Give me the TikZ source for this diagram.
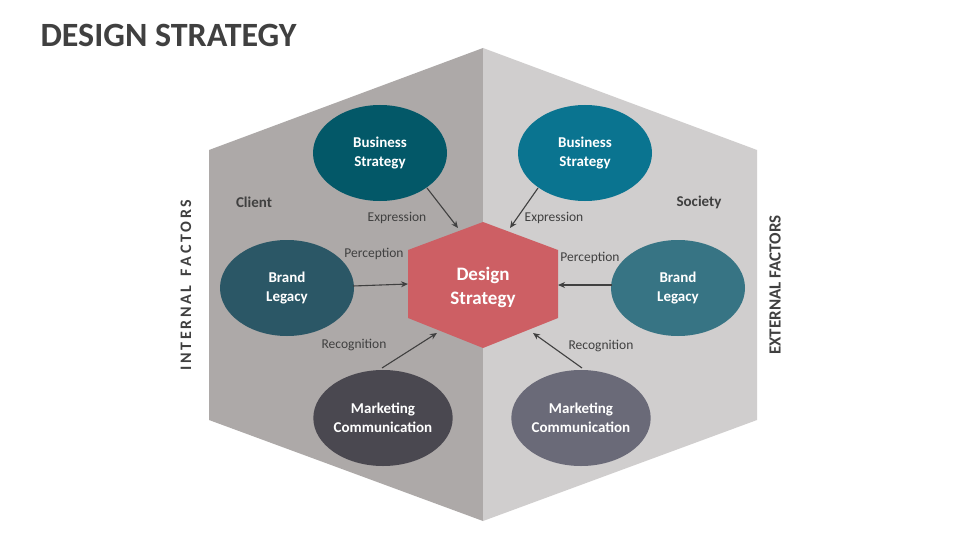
\documentclass[tikz,border=0pt]{standalone}
\usepackage{fontspec}
\setmainfont{Carlito}
\usetikzlibrary{arrows.meta,shapes.geometric}
\definecolor{lhalf}{HTML}{ADA9A8}
\definecolor{rhalf}{HTML}{D0CECE}
\definecolor{hexc}{HTML}{CD5F64}
\definecolor{txt}{HTML}{404040}
\tikzset{
 ell/.style={ellipse,minimum width=134pt,minimum height=96pt,text=white,font=\bfseries\fontsize{15}{19}\selectfont,align=center,inner sep=0pt},
 lbl/.style={text=txt,font=\fontsize{13.5}{15}\selectfont},
 conn/.style={-{Stealth[length=7pt,width=6pt]},draw=txt,line width=1.1pt}
}
\begin{document}
\begin{tikzpicture}[x=1pt,y=-1pt]
\useasboundingbox (0,0) rectangle (960,540);
\fill[white] (0,0) rectangle (960,540);
\node[anchor=west,text=txt,font=\bfseries\fontsize{34}{38}\selectfont] (title) at (37,35) {DESIGN STRATEGY};
\fill[lhalf] (483,48) -- (209,150) -- (209,420) -- (483,521) -- cycle;
\fill[rhalf] (483,48) -- (757,150) -- (757,420) -- (483,521) -- cycle;
\fill[hexc] (483,222) -- (558,250) -- (558,318) -- (483,348) -- (408,318) -- (408,250) -- cycle;
\node[text=white,font=\bfseries\fontsize{19}{24}\selectfont,align=center] (ds) at (483,287) {Design\\Strategy};
\node[ell,fill={rgb,255:red,3;green,88;blue,104}] (bl) at (380,153) {Business\\Strategy};
\node[ell,fill={rgb,255:red,10;green,116;blue,144}] (br) at (585,153) {Business\\Strategy};
\node[ell,fill={rgb,255:red,43;green,87;blue,102}] (ll) at (287,288) {Brand\\Legacy};
\node[ell,fill={rgb,255:red,55;green,116;blue,132}] (lr) at (678,288) {Brand\\Legacy};
\node[ell,fill={rgb,255:red,74;green,72;blue,80}] (ml) at (383,418) {Marketing\\Communication};
\node[ell,fill={rgb,255:red,106;green,106;blue,120}] (mr) at (581,418) {Marketing\\Communication};
\coordinate (a1) at (458,228); \coordinate (a2) at (510,228);
\coordinate (a3) at (408,284); \coordinate (a4) at (558,285);
\coordinate (a5) at (437,333); \coordinate (a6) at (533,333);
\coordinate (s1) at (427,188); \coordinate (s2) at (538,188);
\coordinate (s3) at (353,286); \coordinate (s4) at (612,285);
\coordinate (s5) at (382,368); \coordinate (s6) at (582,368);
\draw[conn] (s1) -- (a1); \draw[conn] (s2) -- (a2);
\draw[conn] (s3) -- (a3); \draw[conn] (s4) -- (a4);
\draw[conn] (s5) -- (a5); \draw[conn] (s6) -- (a6);
\node[lbl] (e1) at (397,218) {Expression};
\node[lbl] (e2) at (554,218) {Expression};
\node[lbl] (p1) at (374,254) {Perception};
\node[lbl] (p2) at (590,258) {Perception};
\node[lbl] (r1) at (354,345) {Recognition};
\node[lbl] (r2) at (601,346) {Recognition};
\node[text=txt,font=\bfseries\fontsize{15}{17}\selectfont] (cl) at (254,202) {Client};
\node[text=txt,font=\bfseries\fontsize{15}{17}\selectfont] (so) at (699,202) {Society};
\node[rotate=90,text=txt,font=\bfseries\fontsize{16}{18}\selectfont] (inf) at (186,285) {I\,N\,T\,E\,R\,N\,A\,L\, \,F\,A\,C\,T\,O\,R\,S};
\node[rotate=90,text=txt,font=\bfseries\fontsize{17}{19}\selectfont] (exf) at (775,285) {EXTERNAL FACTORS};
\end{tikzpicture}
\end{document}
